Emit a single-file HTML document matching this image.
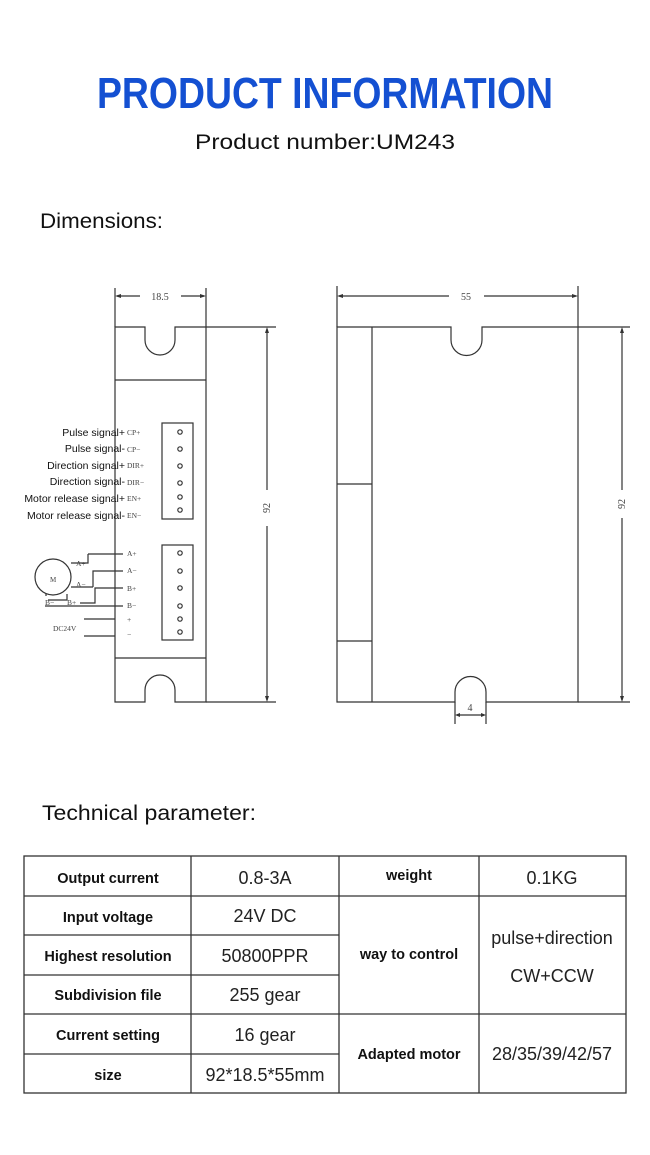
<!DOCTYPE html>
<html><head><meta charset="utf-8"><style>
html,body{margin:0;padding:0;background:#fff;}
svg{display:block;}
</style></head><body>
<svg width="650" height="1155" viewBox="0 0 650 1155" xmlns="http://www.w3.org/2000/svg" font-family="Liberation Sans, sans-serif">
<text x="325" y="108" text-anchor="middle" font-size="44" font-weight="bold" fill="#1450d2" textLength="456" lengthAdjust="spacingAndGlyphs">PRODUCT INFORMATION</text>
<text x="325" y="149" text-anchor="middle" font-size="21" fill="#111" textLength="260" lengthAdjust="spacingAndGlyphs">Product number:UM243</text>
<text x="40" y="228" font-size="21" fill="#111" textLength="123" lengthAdjust="spacingAndGlyphs">Dimensions:</text>

<g stroke="#333" stroke-width="1.2" fill="none">
<!-- left view -->
<path d="M115,327 H145 V340 A15,15 0 0 0 175,340 V327 H206 V702 H175 V690 A15,15 0 0 0 145,690 V702 H115 Z"/>
<line x1="115" y1="380" x2="206" y2="380"/>
<line x1="115" y1="658" x2="206" y2="658"/>
<line x1="115" y1="288" x2="115" y2="327"/>
<line x1="206" y1="288" x2="206" y2="327"/>
<line x1="117" y1="296" x2="140" y2="296"/>
<line x1="181" y1="296" x2="204" y2="296"/>
<line x1="206" y1="327" x2="276" y2="327"/>
<line x1="206" y1="702" x2="276" y2="702"/>
<line x1="267" y1="329" x2="267" y2="490"/>
<line x1="267" y1="526" x2="267" y2="700"/>
<rect x="162" y="423" width="31" height="96"/>
<rect x="162" y="545" width="31" height="95"/>
<circle cx="180" cy="432" r="2.2"/><circle cx="180" cy="449" r="2.2"/><circle cx="180" cy="466" r="2.2"/>
<circle cx="180" cy="483" r="2.2"/><circle cx="180" cy="497" r="2.2"/><circle cx="180" cy="510" r="2.2"/>
<circle cx="180" cy="553" r="2.2"/><circle cx="180" cy="571" r="2.2"/><circle cx="180" cy="588" r="2.2"/>
<circle cx="180" cy="606" r="2.2"/><circle cx="180" cy="619" r="2.2"/><circle cx="180" cy="632" r="2.2"/>
<!-- motor -->
<circle cx="53" cy="577" r="18"/>
<path d="M71,563 H75 M88,554 V563 H75 M88,554 H123"/>
<path d="M71,587 H76 M93,587 H76 M93,587 V571 H123"/>
<path d="M46,594 V596 M67,594 V600 H48 M80,603 H95 V588 H123"/>
<line x1="45" y1="606" x2="123" y2="606"/>
<line x1="84" y1="619" x2="115" y2="619"/>
<line x1="84" y1="636" x2="115" y2="636"/>
<!-- right view -->
<path d="M337,327 H451 V340 A15,15 0 0 0 482,340 V327 H578 V702 H486 V692 A15,15 0 0 0 455,692 V702 H337 Z"/>
<line x1="372" y1="327" x2="372" y2="702"/>
<line x1="337" y1="484" x2="372" y2="484"/>
<line x1="337" y1="641" x2="372" y2="641"/>
<line x1="337" y1="286" x2="337" y2="327"/>
<line x1="578" y1="286" x2="578" y2="327"/>
<line x1="339" y1="296" x2="449" y2="296"/>
<line x1="484" y1="296" x2="576" y2="296"/>
<line x1="578" y1="327" x2="630" y2="327"/>
<line x1="578" y1="702" x2="630" y2="702"/>
<line x1="622" y1="329" x2="622" y2="490"/>
<line x1="622" y1="518" x2="622" y2="700"/>
<line x1="455" y1="702" x2="455" y2="724"/>
<line x1="486" y1="702" x2="486" y2="724"/>
<line x1="457" y1="715" x2="484" y2="715"/>
</g>
<g fill="#333">
<path d="M115,296 l6,-2 v4 z M206,296 l-6,-2 v4 z M337,296 l6,-2 v4 z M578,296 l-6,-2 v4 z"/>
<path d="M267,327 l-2,6 h4 z M267,702 l-2,-6 h4 z M622,327 l-2,6 h4 z M622,702 l-2,-6 h4 z"/>
<path d="M455,715 l5,-2 v4 z M486,715 l-5,-2 v4 z"/>
</g>
<g font-family="Liberation Serif, serif" fill="#444" font-size="10">
<text x="160" y="300" text-anchor="middle">18.5</text>
<text x="466" y="300" text-anchor="middle">55</text>
<text x="470" y="711" text-anchor="middle">4</text>
<text transform="translate(270,508) rotate(-90)" text-anchor="middle">92</text>
<text transform="translate(625,504) rotate(-90)" text-anchor="middle">92</text>
<g font-size="7.5">
<text x="127" y="435">CP+</text><text x="127" y="452">CP−</text><text x="127" y="468">DIR+</text>
<text x="127" y="485">DIR−</text><text x="127" y="501">EN+</text><text x="127" y="518">EN−</text>
<text x="127" y="556">A+</text><text x="127" y="573">A−</text><text x="127" y="591">B+</text>
<text x="127" y="608">B−</text><text x="127" y="622">+</text><text x="127" y="637">−</text>
<text x="76" y="566">A+</text><text x="76" y="587">A−</text>
<text x="45" y="605">B−</text><text x="67" y="605">B+</text>
<text x="50" y="582" font-size="7">M</text>
<text x="53" y="631">DC24V</text>
</g>
</g>
<g font-size="10.5" fill="#111" text-anchor="end">
<text x="125" y="436">Pulse signal+</text>
<text x="125" y="452">Pulse signal-</text>
<text x="125" y="469">Direction signal+</text>
<text x="125" y="485">Direction signal-</text>
<text x="125" y="502">Motor release signal+</text>
<text x="125" y="519">Motor release signal-</text>
</g>

<text x="42" y="820" font-size="21" fill="#111" textLength="214" lengthAdjust="spacingAndGlyphs">Technical parameter:</text>

<g stroke="#333" stroke-width="1.3" fill="none">
<rect x="24" y="856" width="602" height="237"/>
<line x1="191" y1="856" x2="191" y2="1093"/>
<line x1="339" y1="856" x2="339" y2="1093"/>
<line x1="479" y1="856" x2="479" y2="1093"/>
<line x1="24" y1="896" x2="626" y2="896"/>
<line x1="24" y1="935" x2="339" y2="935"/>
<line x1="24" y1="975" x2="339" y2="975"/>
<line x1="24" y1="1014" x2="626" y2="1014"/>
<line x1="24" y1="1054" x2="339" y2="1054"/>
</g>
<g font-size="14.5" font-weight="bold" fill="#111" text-anchor="middle">
<text x="108" y="883">Output current</text>
<text x="108" y="922">Input voltage</text>
<text x="108" y="961">Highest resolution</text>
<text x="108" y="1000">Subdivision file</text>
<text x="108" y="1040">Current setting</text>
<text x="108" y="1080">size</text>
<text x="409" y="880">weight</text>
<text x="409" y="959">way to control</text>
<text x="409" y="1059">Adapted motor</text>
</g>
<g font-size="18" fill="#222" text-anchor="middle">
<text x="265" y="884">0.8-3A</text>
<text x="265" y="922">24V DC</text>
<text x="265" y="962">50800PPR</text>
<text x="265" y="1001">255 gear</text>
<text x="265" y="1041">16 gear</text>
<text x="265" y="1081">92*18.5*55mm</text>
<text x="552" y="884">0.1KG</text>
<text x="552" y="944">pulse+direction</text>
<text x="552" y="982">CW+CCW</text>
<text x="552" y="1060">28/35/39/42/57</text>
</g>
</svg>
</body></html>
